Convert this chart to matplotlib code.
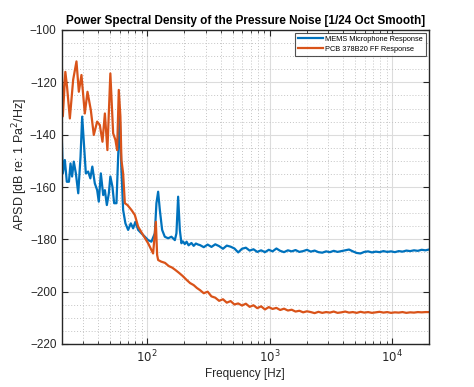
import numpy as np
import matplotlib
matplotlib.use("Agg")
import matplotlib.pyplot as plt
from matplotlib.ticker import MultipleLocator, LogLocator, NullFormatter, FixedLocator

plt.rcParams['font.family'] = ['Liberation Sans', 'DejaVu Sans']

# MEMS microphone response (blue)
mems_freq = [20, 20.5, 21.3, 22.1, 23.0, 23.7, 24.4, 25.2, 26.2, 27.4, 28.6, 29.5, 30.6, 31.6,
             33.0, 34.4, 35.7, 37.4, 39.1, 40.3, 41.9, 43.8, 45.2, 46.9, 48.7, 50.1, 52.1,
             53.8, 56.2, 58.0, 59.8, 61.7, 63.7, 66.5, 70.0, 73.6, 76.9, 80.2, 84.5, 89.8,
             95.8, 101.9, 108.4, 115.6, 119.1, 123, 127, 132.6, 139.4, 148.4, 157.9, 168.4,
             173.5, 179.1, 184.9, 190.5, 196, 203, 210, 218, 230, 240, 250, 260.8,
             270, 290, 312, 335, 360, 387, 416, 447, 480, 516, 554, 595, 640, 687, 738, 793,
             852, 916, 984, 1057, 1136, 1220, 1311, 1409, 1514, 1627, 1748, 1878, 2018, 2168,
             2330, 2503, 2690, 2890, 3105, 3337, 3585, 3852, 4139, 4448, 4779, 5135, 5518,
             5929, 6370, 6845, 7355, 7903, 8491, 9124, 9803, 10533, 11318, 12161, 13067,
             14040, 15086, 16210, 17417, 18714, 20000]
mems_psd = [-137, -154.8, -149.7, -158, -158, -151, -156, -150.3, -154.8, -162.4, -148.4, -133.1,
            -144.6, -154.8, -154.1, -156.7, -152.2, -158.6, -161.2, -165.6, -154.8, -163.1,
            -161.2, -166.9, -162.4, -156, -159.9, -166.2, -166.2, -148.4, -133, -153.5, -168.8,
            -173.9, -176.4, -173.9, -175.8, -173.3, -176.4, -177.7, -179, -180.3, -180.9,
            -177.7, -166.2, -161.8, -168.8, -176.4, -179, -179.6, -179, -180.3, -177.7, -163.7,
            -176.4, -181.5, -180.8, -181.8, -180.9, -182.3, -181.4, -182.5, -181.6, -182.0,
            -182.2, -183.0, -182.0, -182.9, -181.9, -182.6, -183.6, -182.4, -182.8, -183.5,
            -185.0, -183.6, -183.2, -184.3, -183.8, -184.8, -184.2, -184.9, -184.0, -184.6,
            -183.5, -184.4, -184.9, -184.2, -184.6, -184.1, -184.8, -184.5, -184.0, -184.7,
            -184.3, -184.9, -185.1, -184.6, -184.9, -184.4, -184.8, -184.5, -184.2, -183.9,
            -184.6, -185.2, -185.4, -184.8, -184.6, -185.0, -184.7, -184.9, -184.5, -184.8,
            -184.6, -184.9, -184.5, -184.7, -184.3, -184.5, -184.2, -184.4, -184.0, -184.2,
            -183.9]

# PCB 378B20 free-field response (orange)
pcb_freq = [20, 20.5, 21.5, 22.2, 23.4, 24.9, 26.5, 27.7, 29.1, 31.0, 32.6, 34.7, 36.7, 39.1,
            41.1, 43.2, 45.2, 47.4, 50.1, 52.8, 55.1, 56.9, 58.7, 60.5, 61.7, 63.7, 65.8,
            69.1, 74.5, 79.4, 84.5, 92.8, 101.9, 111.9, 117.8, 120.7, 123, 130, 140, 150,
            160, 170, 182, 195, 210, 224, 240, 255,
            270, 290, 312, 335, 360, 387, 416, 447, 480, 516, 554, 595, 640, 687, 738, 793,
            852, 916, 984, 1057, 1136, 1220, 1311, 1409, 1514, 1627, 1748, 1878, 2018, 2168,
            2330, 2503, 2690, 2890, 3105, 3337, 3585, 3852, 4139, 4448, 4779, 5135, 5518,
            5929, 6370, 6845, 7355, 7903, 8491, 9124, 9803, 10533, 11318, 12161, 13067,
            14040, 15086, 16210, 17417, 18714, 20000]
pcb_psd = [-105.7, -133, -116, -121.7, -133.8, -119, -112, -123.6, -117.2, -131.9, -123.6,
           -130.6, -140.1, -135, -136.3, -142.7, -131.9, -145.9, -116.6, -139.5, -142, -145.9,
           -122.9, -133, -149.7, -154.8, -166.2, -166.9, -168.8, -170.7, -175.2, -178.4,
           -181.5, -185.4, -173.3, -186, -187.9, -188.5, -189.0, -190.2, -190.8, -191.7,
           -192.8, -194.0, -195.5, -196.7, -197.5, -198.6,
           -199.4, -200.6, -200.0, -201.8, -202.3, -203.5, -202.9, -204.2, -203.6, -204.9,
           -204.5, -205.3, -204.6, -205.8, -205.2, -206.3, -205.6, -206.8, -205.9, -206.6,
           -206.2, -207.0, -206.5, -207.2, -206.9, -207.6, -207.3, -207.9, -207.5, -207.8,
           -208.2, -207.7, -208.1, -207.8, -208.0, -207.6, -208.1, -207.9, -207.6, -208.0,
           -207.8, -208.1, -207.7, -208.0, -207.8, -208.1, -207.9, -207.7, -208.0, -207.8,
           -208.1, -207.9, -208.0, -207.8, -208.1, -207.9, -208.0, -207.8, -207.9, -207.8,
           -207.8]

blue = '#0072BD'
orange = '#D95319'

fig = plt.figure(figsize=(4.74, 3.87), dpi=100)
ax = fig.add_axes([61.5 / 474, 1 - 344 / 387, (429 - 61.5) / 474, (344 - 30) / 387])

ax.semilogx(mems_freq, mems_psd, color=blue, lw=1.6, label='MEMS Microphone Response')
ax.semilogx(pcb_freq, pcb_psd, color=orange, lw=1.6, label='PCB 378B20 FF Response')

ax.set_xlim(20, 20000)
ax.set_ylim(-220, -100)
ax.yaxis.set_major_locator(MultipleLocator(20))
ax.yaxis.set_minor_locator(MultipleLocator(5))
ax.xaxis.set_major_locator(FixedLocator([100, 1000, 10000]))
ax.xaxis.set_minor_locator(LogLocator(base=10, subs=np.arange(2, 10)))
ax.xaxis.set_minor_formatter(NullFormatter())
ax.set_xticklabels([r'$10^{2}$', r'$10^{3}$', r'$10^{4}$'])

ax.grid(True, which='major', color='#dcdcdc', lw=0.8, ls='-')
ax.grid(True, which='minor', color='#c4c4c4', lw=0.7, ls=(0, (1, 2)))
ax.set_axisbelow(True)

axis_c = '#262626'
for s in ax.spines.values():
    s.set_color(axis_c)
    s.set_linewidth(1.0)
ax.tick_params(which='both', direction='in', top=True, right=True, colors=axis_c,
               labelsize=8.5, labelcolor='#262626')
ax.tick_params(which='major', length=4)
ax.tick_params(which='minor', length=2)
ax.tick_params(axis='y', which='minor', length=0)

ax.set_title('Power Spectral Density of the Pressure Noise [1/24 Oct Smooth]',
             fontsize=8.5, fontweight='bold', pad=4)
ax.set_xlabel('Frequency [Hz]', fontsize=8.5, color='#262626', labelpad=2)
ax.set_ylabel('APSD [dB re: 1 Pa$^2$/Hz]', fontsize=9, color='#262626')
ax.yaxis.set_label_coords(-0.087, 0.57)

leg = ax.legend(loc='upper right', fontsize=5.3, frameon=True, fancybox=False,
                edgecolor='#262626', borderpad=0.45, handlelength=3.4, labelspacing=0.35,
                borderaxespad=0.35, handletextpad=0.3)
leg.get_frame().set_linewidth(0.8)

fig.savefig('out.png', dpi=100)
